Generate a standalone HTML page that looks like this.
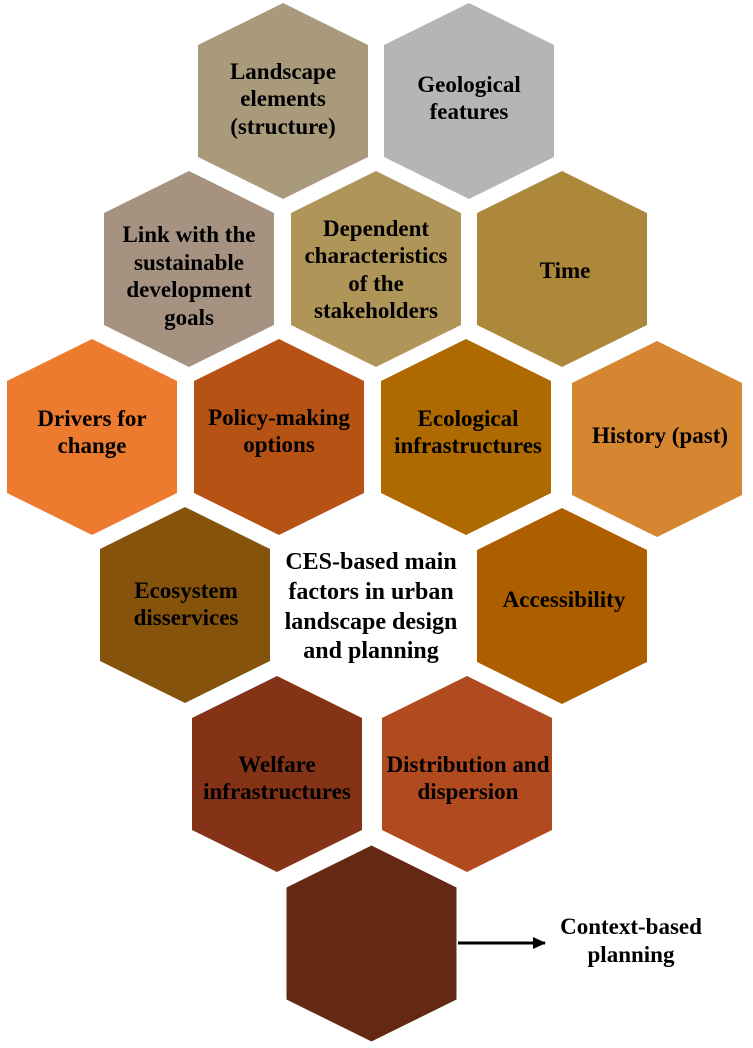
<!DOCTYPE html>
<html><head><meta charset="utf-8"><style>
html,body{margin:0;padding:0;background:#fff;}
svg{display:block;}
</style></head><body>
<svg width="753" height="1048" viewBox="0 0 753 1048" xmlns="http://www.w3.org/2000/svg">
<defs>
<polygon id="h" points="0,-98 85,-56 85,56 0,98 -85,56 -85,-56"/>
<marker id="ar" markerWidth="14" markerHeight="12" refX="12" refY="6" orient="auto" markerUnits="userSpaceOnUse"><polygon points="0,0 13,6 0,12" fill="#000"/></marker>
</defs>
<use href="#h" x="283" y="101" fill="#a99a7b"/>
<use href="#h" x="469" y="101" fill="#b5b5b5"/>
<use href="#h" x="189" y="269" fill="#a69280"/>
<use href="#h" x="376" y="269" fill="#b09559"/>
<use href="#h" x="562" y="269" fill="#ad883b"/>
<use href="#h" x="92" y="437" fill="#ec7b2f"/>
<use href="#h" x="279" y="437" fill="#b65214"/>
<use href="#h" x="466" y="437" fill="#ae6a00"/>
<use href="#h" x="657" y="439" fill="#d68631"/>
<use href="#h" x="185" y="605" fill="#86530d"/>
<use href="#h" x="562" y="606" fill="#ad5f00"/>
<use href="#h" x="277" y="774" fill="#843317"/>
<use href="#h" x="467" y="774" fill="#b24a20"/>
<use href="#h" x="371.5" y="943.5" fill="#652812"/>

<g font-family="'Liberation Serif', 'Times New Roman', Times, serif" font-weight="bold" font-size="23" fill="#000" text-anchor="middle">
<text x="283" y="79">Landscape</text><text x="283" y="106">elements</text><text x="283" y="134">(structure)</text>
<text x="469" y="92">Geological</text><text x="469" y="119">features</text>
<text x="189" y="242">Link with the</text><text x="189" y="270">sustainable</text><text x="189" y="297">development</text><text x="189" y="325">goals</text>
<text x="376" y="236">Dependent</text><text x="376" y="263">characteristics</text><text x="376" y="291">of the</text><text x="376" y="318">stakeholders</text>
<text x="565" y="278">Time</text>
<text x="92" y="426">Drivers for</text><text x="92" y="453">change</text>
<text x="279" y="425">Policy-making</text><text x="279" y="452">options</text>
<text x="468" y="426">Ecological</text><text x="468" y="453">infrastructures</text>
<text x="660" y="443">History (past)</text>
<text x="186" y="598">Ecosystem</text><text x="186" y="625">disservices</text>
<text x="564" y="607">Accessibility</text>
<text x="277" y="772">Welfare</text><text x="277" y="799">infrastructures</text>
<text x="468" y="772">Distribution and</text><text x="468" y="799">dispersion</text>
<text x="631" y="934">Context-based</text><text x="631" y="962">planning</text>
</g>
<g font-family="'Liberation Serif', 'Times New Roman', Times, serif" font-weight="bold" font-size="24" fill="#000" text-anchor="middle">
<text x="371" y="569">CES-based main</text><text x="371" y="599">factors in urban</text><text x="371" y="629">landscape design</text><text x="371" y="658">and planning</text>
</g>
<line x1="458" y1="943" x2="545" y2="943" stroke="#000" stroke-width="3" marker-end="url(#ar)"/>
</svg>
</body></html>
